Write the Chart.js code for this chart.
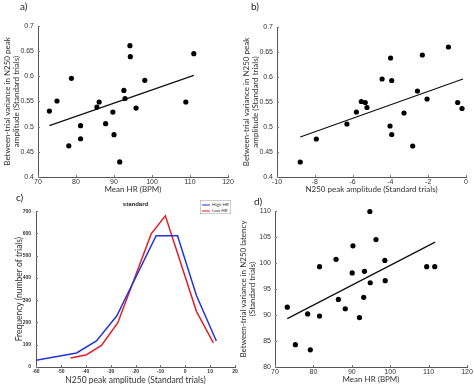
<!DOCTYPE html>
<html>
<head>
<meta charset="utf-8">
<script src="https://cdn.jsdelivr.net/npm/chart.js"></script>
<style>
  body { margin: 0; width: 474px; height: 384px; overflow: hidden; background: #fff; position: relative; font-family: Lato, sans-serif; }
  .pane { position: absolute; }
  .tag { position: absolute; font-size: 10px; color: #222; line-height: 10px; }
  #legend { position: absolute; left: 200px; top: 200px; width: 62px; height: 28px; border: 1px solid #999; background: #fff;
            transform: scale(0.5); transform-origin: 0 0; font-size: 9px; color: #333; box-sizing: border-box; padding: 2px 3px; }
  #legend div { height: 12px; line-height: 12px; white-space: nowrap; }
  #legend span { display: inline-block; width: 16px; height: 2px; vertical-align: middle; margin-right: 4px; }
</style>
</head>
<body>
<div class="pane" style="left:0;top:0"><canvas id="chartA" width="237" height="197"></canvas></div>
<div class="pane" style="left:237px;top:0"><canvas id="chartB" width="237" height="197"></canvas></div>
<div class="pane" style="left:0;top:190px"><canvas id="chartC" width="240" height="198"></canvas></div>
<div class="pane" style="left:237px;top:190px"><canvas id="chartD" width="237" height="198"></canvas></div>
<div class="tag" style="left:20px;top:1px">a)</div>
<div class="tag" style="left:251px;top:1px">b)</div>
<div class="tag" style="left:16px;top:192px">c)</div>
<div class="tag" style="left:254px;top:196px">d)</div>
<div id="legend">
  <div><span style="background:#2434d8"></span>High HR</div>
  <div><span style="background:#e0212c"></span>Low HR</div>
</div>
<script>
// a) mean HR vs variance in N250 amplitude
var hrA = [73.0, 75.0, 78.1, 78.8, 81.2, 81.2, 85.5, 86.1, 87.8, 89.7, 90.0, 91.5, 92.6, 92.9, 94.2, 94.3, 95.8, 98.1, 108.9, 111.0];
var ampVarA = [0.531, 0.551, 0.462, 0.596, 0.502, 0.476, 0.539, 0.549, 0.506, 0.529, 0.484, 0.430, 0.572, 0.556, 0.661, 0.639, 0.537, 0.592, 0.549, 0.645];
var fitAX = [73.0, 111.0];
var fitAY = [0.502, 0.602];

// b) N250 peak amplitude vs variance in N250 amplitude
var peakB = [-8.77, -7.92, -6.30, -5.80, -5.54, -5.33, -5.24, -4.44, -3.99, -3.93, -4.02, -3.93, -3.28, -2.82, -2.31, -2.57, -2.06, -0.93, -0.44, -0.21];
var ampVarB = [0.430, 0.476, 0.506, 0.530, 0.551, 0.549, 0.539, 0.596, 0.638, 0.593, 0.502, 0.485, 0.528, 0.462, 0.644, 0.572, 0.556, 0.660, 0.549, 0.537];
var fitBX = [-8.77, -0.16];
var fitBY = [0.480, 0.596];

// c) frequency distributions, high vs low HR
var highX = [-60, -43.7, -35.7, -27.5, -11.7, -3.1, 4.5, 12.5];
var highY = [30, 63, 117, 230, 590, 590, 321, 117];
var lowX = [-46.1, -39.7, -33.7, -27.1, -13.7, -8.0, 4.5, 11.3];
var lowY = [40, 55, 97, 199, 598, 679, 250, 108];

// d) mean HR vs variance in N250 latency
var hrD = [73.2, 75.3, 78.5, 79.2, 81.6, 81.6, 85.9, 86.5, 88.3, 90.1, 90.3, 92.0, 93.1, 93.3, 94.8, 94.7, 96.3, 98.6, 98.7, 109.5, 111.6];
var latVarD = [91.5, 84.3, 90.2, 83.3, 99.3, 89.8, 100.7, 93.0, 91.2, 98.1, 103.3, 89.5, 93.4, 98.4, 96.2, 109.9, 104.5, 100.5, 96.6, 99.3, 99.3];
var fitDX = [73.2, 111.7];
var fitDY = [89.3, 104.0];

function pairs(xs, ys) {
  return xs.map(function(x, i) { return { x: x, y: ys[i] }; });
}

// small MATLAB style ticks pointing into the plot
var inTicks = {
  id: 'inTicks',
  afterDatasetsDraw: function(chart) {
    var ctx = chart.ctx, area = chart.chartArea;
    var sx = chart.scales.x, sy = chart.scales.y;
    ctx.save();
    ctx.strokeStyle = '#777';
    ctx.lineWidth = 1;
    sx.ticks.forEach(function(t) {
      var px = Math.round(sx.getPixelForValue(t.value)) + 0.5;
      ctx.beginPath(); ctx.moveTo(px, area.bottom); ctx.lineTo(px, area.bottom - 2); ctx.stroke();
    });
    sy.ticks.forEach(function(t) {
      var py = Math.round(sy.getPixelForValue(t.value)) + 0.5;
      ctx.beginPath(); ctx.moveTo(area.left, py); ctx.lineTo(area.left + 2, py); ctx.stroke();
    });
    ctx.restore();
  }
};

function axis(o) {
  return {
    type: 'linear',
    min: o.min, max: o.max,
    ticks: { stepSize: o.step, color: '#333', padding: o.tickPad,
             font: { family: 'Liberation Sans', size: o.tickSize || 7, weight: o.tickWeight || 'normal' },
             callback: function(v) { return String(+v.toFixed(2)); } },
    grid: { display: false, drawTicks: false },
    border: { display: true, color: '#555', width: 1 },
    title: { display: true, text: o.title, color: '#333', padding: o.titlePad,
             font: { family: 'Lato', size: o.titleSize || 8, lineHeight: 1.15 } },
    afterFit: function(s) { if (o.width) s.width = o.width; if (o.height) s.height = o.height; }
  };
}

function scatterChart(id, xs, ys, fx, fy, xOpt, yOpt, pad) {
  return new Chart(document.getElementById(id), {
    type: 'scatter',
    data: {
      datasets: [
        { data: pairs(xs, ys), backgroundColor: '#000', borderColor: '#000', pointRadius: 2.6, pointBorderWidth: 0, clip: false },
        { data: pairs(fx, fy), showLine: true, borderColor: '#111', borderWidth: 1.3, pointRadius: 0, fill: false }
      ]
    },
    options: {
      responsive: false, animation: false, devicePixelRatio: 1,
      layout: { padding: pad },
      plugins: { legend: { display: false }, tooltip: { enabled: false } },
      scales: { x: axis(xOpt), y: axis(yOpt) }
    },
    plugins: [inTicks]
  });
}

Chart.defaults.font.family = 'Lato';

scatterChart('chartA', hrA, ampVarA, fitAX, fitAY,
  { min: 70, max: 120, step: 10, title: 'Mean HR (BPM)', tickPad: 1, titlePad: { top: 0, bottom: 3 }, height: 20 },
  { min: 0.4, max: 0.7, step: 0.05, title: ['Between-trial variance in N250 peak', 'amplitude (Standard trials)'], tickPad: 4, titlePad: { top: 2.5, bottom: 0 }, width: 38 },
  { top: 26, right: 9, left: 0, bottom: 0 });

scatterChart('chartB', peakB, ampVarB, fitBX, fitBY,
  { min: -10, max: 0, step: 2, title: 'N250 peak amplitude (Standard trials)', tickPad: 1, titlePad: { top: 0, bottom: 3 }, height: 20 },
  { min: 0.4, max: 0.7, step: 0.05, title: ['Between-trial variance in N250 peak', 'amplitude (Standard trials)'], tickPad: 4, titlePad: { top: 5, bottom: 0 }, width: 40 },
  { top: 27, right: 8, left: 0, bottom: 0 });

scatterChart('chartD', hrD, latVarD, fitDX, fitDY,
  { min: 70, max: 120, step: 10, title: 'Mean HR (BPM)', tickPad: 1, titlePad: { top: 0, bottom: 4 }, height: 21 },
  { min: 80, max: 110, step: 5, title: ['Between-trial variance in N250 latency', '(Standard trials)'], tickPad: 4, titlePad: { top: 2, bottom: 0 }, width: 38 },
  { top: 21, right: 7, left: 0, bottom: 0 });

new Chart(document.getElementById('chartC'), {
  type: 'scatter',
  data: {
    datasets: [
      { label: 'High HR', data: pairs(highX, highY), showLine: true, borderColor: '#2434d8', borderWidth: 1.5, pointRadius: 0, fill: false },
      { label: 'Low HR', data: pairs(lowX, lowY), showLine: true, borderColor: '#e0212c', borderWidth: 1.5, pointRadius: 0, fill: false }
    ]
  },
  options: {
    responsive: false, animation: false, devicePixelRatio: 1,
    layout: { padding: { top: 0, right: 5, left: 0, bottom: 0 } },
    plugins: {
      legend: { display: false },
      tooltip: { enabled: false },
      title: { display: true, text: 'standard', fullSize: false, color: '#222', padding: { top: 11, bottom: 3 },
               font: { family: 'Liberation Sans', size: 6, weight: 'bold' } }
    },
    scales: {
      x: axis({ min: -60, max: 20, step: 10, title: 'N250 peak amplitude (Standard trials)', tickPad: 2, tickSize: 5, tickWeight: 'bold',
                titleSize: 8.5, titlePad: { top: 0, bottom: 3 }, height: 21 }),
      y: axis({ min: 0, max: 700, step: 100, title: 'Frequency (number of trials)', tickPad: 5, tickSize: 5, tickWeight: 'bold',
                titleSize: 8.5, titlePad: { top: 14, bottom: 0 }, width: 36 })
    }
  },
  plugins: [inTicks]
});
</script>
</body>
</html>
